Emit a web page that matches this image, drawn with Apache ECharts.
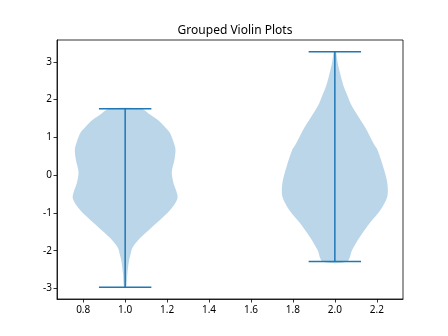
<!DOCTYPE html>
<html>
<head>
<meta charset="utf-8">
<script src="https://cdn.jsdelivr.net/npm/echarts@6/dist/echarts.min.js"></script>
<style>
  html, body { margin: 0; padding: 0; background: #fff; }
  #main { width: 448px; height: 336px; }
</style>
</head>
<body>
<div id="main"></div>
<script>
// violin positions on the x axis
var positions = [1, 2];

// violin 1: y values and relative density (1 = widest point)
var violin1Y = [1.76, 1.60, 1.47, 1.29, 1.13, 0.89, 0.68, 0.41, 0.09, -0.20, -0.44, -0.60, -0.78, -0.97, -1.13, -1.39, -1.66, -1.92, -2.11, -2.29, -2.64, -2.97];
var violin1D = [0.31, 0.48, 0.62, 0.75, 0.85, 0.92, 0.96, 0.94, 0.89, 0.92, 0.98, 1.00, 0.94, 0.83, 0.71, 0.50, 0.29, 0.14, 0.10, 0.07, 0.04, 0.02];

// violin 2
var violin2Y = [3.27, 3.10, 2.93, 2.59, 2.35, 2.14, 1.90, 1.68, 1.26, 0.81, 0.68, 0.23, -0.20, -0.57, -0.92, -1.26, -1.63, -1.98, -2.29];
var violin2D = [0.02, 0.04, 0.06, 0.12, 0.17, 0.23, 0.30, 0.39, 0.58, 0.75, 0.81, 0.92, 1.00, 1.00, 0.87, 0.67, 0.48, 0.33, 0.23];

// min / max of each group
var mins = [-2.97, -2.29];
var maxs = [1.76, 3.27];

var xTicks = [0.8, 1.0, 1.2, 1.4, 1.6, 1.8, 2.0, 2.2];
var yTicks = [-3, -2, -1, 0, 1, 2, 3];

var violinY = [violin1Y, violin2Y];
var violinD = [violin1D, violin2D];
var halfWidth = 0.25;   // widths=0.5
var capHalf = 0.125;

var myChart = echarts.init(document.getElementById('main'));

var textFont = 'Noto Sans';

var option = {
    animation: false,
    title: {
        text: 'Grouped Violin Plots',
        left: 230,
        textAlign: 'center',
        top: 20,
        textStyle: { fontFamily: textFont, fontSize: 12, fontWeight: 'normal', color: '#000' }
    },
    grid: {
        left: 57, right: 45, top: 40, bottom: 37,
        show: true, borderColor: '#000', borderWidth: 0.8, backgroundColor: 'transparent'
    },
    xAxis: {
        type: 'value',
        min: 0.675,
        max: 2.325,
        splitLine: { show: false },
        axisLine: { show: true, onZero: false, lineStyle: { color: '#000', width: 0.8 } },
        axisTick: { show: true, length: 3.5, lineStyle: { color: '#000', width: 0.8 }, customValues: xTicks },
        axisLabel: {
            color: '#000', fontFamily: textFont, fontSize: 10, margin: 6,
            customValues: xTicks,
            formatter: function (v) { return v.toFixed(1); }
        }
    },
    yAxis: {
        type: 'value',
        min: -3.28,
        max: 3.58,
        splitLine: { show: false },
        axisLine: { show: true, onZero: false, lineStyle: { color: '#000', width: 0.8 } },
        axisTick: { show: true, length: 3.5, lineStyle: { color: '#000', width: 0.8 }, customValues: yTicks },
        axisLabel: {
            color: '#000', fontFamily: textFont, fontSize: 10, margin: 5,
            customValues: yTicks,
            formatter: function (v) { return String(v); }
        }
    },
    series: [
        {
            type: 'custom',
            coordinateSystem: 'cartesian2d',
            data: positions.map(function (p, i) { return [p, mins[i], maxs[i]]; }),
            encode: { x: 0, y: [1, 2] },
            renderItem: function (params, api) {
                var i = params.dataIndex;
                var pos = api.value(0);
                var ys = violinY[i];
                var ds = violinD[i];
                var pts = [];
                for (var k = 0; k < ys.length; k++) {
                    pts.push(api.coord([pos + ds[k] * halfWidth, ys[k]]));
                }
                for (var k = ys.length - 1; k >= 0; k--) {
                    pts.push(api.coord([pos - ds[k] * halfWidth, ys[k]]));
                }
                var top = api.coord([pos, api.value(2)]);
                var bot = api.coord([pos, api.value(1)]);
                var capL = api.coord([pos - capHalf, 0])[0];
                var capR = api.coord([pos + capHalf, 0])[0];
                var lineStyle = { stroke: '#1f77b4', lineWidth: 1.5 };
                return {
                    type: 'group',
                    children: [
                        {
                            type: 'polygon',
                            shape: { points: pts, smooth: 0.3 },
                            style: { fill: 'rgba(31,119,180,0.3)', stroke: 'none' }
                        },
                        { type: 'line', shape: { x1: top[0], y1: top[1], x2: bot[0], y2: bot[1] }, style: lineStyle },
                        { type: 'line', shape: { x1: capL, y1: top[1], x2: capR, y2: top[1] }, style: lineStyle },
                        { type: 'line', shape: { x1: capL, y1: bot[1], x2: capR, y2: bot[1] }, style: lineStyle }
                    ]
                };
            }
        }
    ]
};

myChart.setOption(option);
</script>
</body>
</html>
